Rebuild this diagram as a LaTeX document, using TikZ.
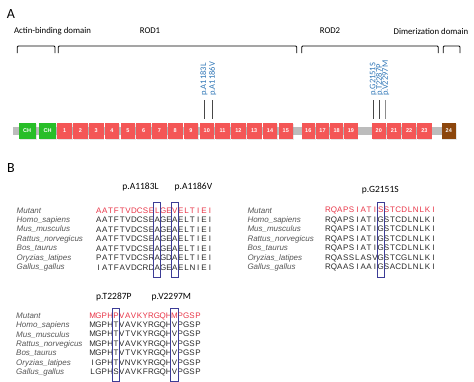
\documentclass[tikz,border=0pt]{standalone}
\usepackage{fontspec}
\setmainfont{Carlito}
\newfontfamily\seqfont{Liberation Sans}
\usetikzlibrary{positioning,shadows}

\definecolor{rodred}{RGB}{244,86,86}
\definecolor{chgreen}{RGB}{40,190,40}
\definecolor{dimbrown}{RGB}{140,70,12}
\definecolor{spinegray}{RGB}{188,188,188}
\definecolor{mutblue}{RGB}{46,117,182}
\definecolor{mutred}{RGB}{232,52,70}
\definecolor{spgray}{RGB}{85,85,85}
\definecolor{seqdark}{RGB}{40,40,40}
\definecolor{hitblue}{RGB}{60,60,150}

% one residue per fixed-width cell
\newcommand\seqpitch{5.85pt}
\newcommand\spaced[1]{\expandafter\spacedloop#1\relax}
\def\spacedloop#1{\ifx#1\relax\else\makebox[\seqpitch]{#1}\expandafter\spacedloop\fi}

\begin{document}
\begin{tikzpicture}[x=1pt,y=-1pt,
            panel/.style={font=\fontsize{14}{16}\selectfont,inner sep=0},
            domlabel/.style={font=\fontsize{8.8}{10}\selectfont,inner sep=0},
            bracket/.style={draw,line width=0.8pt,rounded corners=1pt},
            unit/.style={minimum height=16pt,inner sep=0,text=white,
              font=\seqfont\bfseries\fontsize{5.5}{6}\selectfont,
              drop shadow={opacity=.2,shadow xshift=.8pt,shadow yshift=-.8pt}},
            ch/.style={unit,fill=chgreen,minimum width=17pt},
            rod/.style={unit,fill=rodred},
            dim/.style={unit,fill=dimbrown,minimum width=14.3pt},
            mut/.style={rotate=90,anchor=west,inner sep=0,text=mutblue,font=\fontsize{8.5}{9}\selectfont},
            mutline/.style={draw=black!72,line width=1pt,shorten <=4pt,shorten >=4pt},
            site/.style={font=\fontsize{9.5}{11}\selectfont,inner sep=0},
            species/.style={anchor=west,inner sep=0,text=spgray,font=\seqfont\itshape\fontsize{8}{9}\selectfont},
            seq/.style={anchor=west,inner sep=0,text=seqdark,font=\seqfont\fontsize{8}{9}\selectfont},
            mutant/.style={seq,text=mutred},
            hit/.style={draw=hitblue,line width=0.9pt}
          ]
          \useasboundingbox (0,0) rectangle (474,381);

          %panel A
          \node[panel] (pa) at (11,14) {A};

          %domains
          \node[domlabel] (abd) at (52.5,31) {Actin-binding domain};
          \node[domlabel] (rod1) at (150,31) {ROD1};
          \node[domlabel] (rod2) at (330,31) {ROD2};
          \node[domlabel] (dimd) at (431,31) {Dimerization domain};
          \draw[bracket] (17.3,53) |- (55,46) -- (55,53);
          \draw[bracket] (58.3,53) |- (296.7,46) -- (296.7,53);
          \draw[bracket] (301.7,53) |- (438.3,46) -- (438.3,53);
          \draw[bracket] (443.3,53) |- (460,46) -- (460,53);

          %protein
          \fill[spinegray] (12.7,127) rectangle (444,135);
          \node[ch] (ch1) at (27.2,131) {CH};
          \node[ch,right=3pt of ch1] (ch2) {CH};
          \foreach \n in {1,...,15}
            \node[rod,minimum width=14.6pt] (b\n) at ({64.6+15.8*(\n-1)},131) {\n};
          \foreach \n in {16,...,19}
            \node[rod,minimum width=13.3pt] (b\n) at ({308.3+14.2*(\n-16)},131) {\n};
          \foreach \n in {20,...,23}
            \node[rod,minimum width=14.2pt] (b\n) at ({378.8+15.2*(\n-20)},131) {\n};
          \node[dim] (b24) at (448.8,131) {24};

          %mutations
          \node[mut] (m1183) at (204,96) {p.A1183L};
          \node[mut] (m1186) at (212.7,96) {p.A1186V};
          \node[mut] (m2151) at (373.3,96) {p.G2151S};
          \node[mut] (m2287) at (379.7,96) {p.T2287P};
          \node[mut] (m2297) at (385.7,96) {p.V2297M};
          \path
          (m1183.west) edge[mutline] (m1183.west |- b10.north)
          (m1186.west) edge[mutline] (m1186.west |- b10.north)
          (m2151.west) edge[mutline] (m2151.west |- b20.north)
          (m2287.west) edge[mutline] (m2287.west |- b20.north)
          (m2297.west) edge[mutline,draw=black!45] (m2297.west |- b20.north)
          ;

          %panel B
          \node[panel] (pb) at (11,168) {B};

          %alignment 1
          \node[site] (h1183) at (140.5,187) {p.A1183L};
          \node[site] (h1186) at (193.4,187) {p.A1186V};
          \node[species] (l-mut) at (16.5,210.5) {Mutant};
          \node[mutant] (l-mseq) at (95.7,210.5) {\spaced{AATFTVDCSELGEVELTIEI}};
          \foreach \sp/\res [count=\i] in {Homo\_sapiens/AATFTVDCSEAGEAELTIEI,
              Mus\_musculus/AATFTVDCSEAGEAELTIEI,Rattus\_norvegicus/AATFTVDCSEAGEAELTIEI,
              Bos\_taurus/AATFTVDCSEAGEAELTIEI,Oryzias\_latipes/PATFTVDCSRAGDAELTIEI,
              Gallus\_gallus/IATFAVDCRDAGEAELNIEI}{
            \node[species] (l-sp\i) at (16.5,{210.5+9.5*\i}) {\sp};
            \node[seq] (l-sq\i) at (95.7,{210.5+9.5*\i}) {\spaced{\res}};
          }
          \draw[hit] (153.5,202) rectangle (160.8,277);
          \draw[hit] (171,202) rectangle (178.3,277);

          %alignment 2
          \node[site] (h2151) at (380.3,190) {p.G2151S};
          \node[species] (r-mut) at (247.3,210.5) {Mutant};
          \node[mutant] (r-mseq) at (325,210.5) {\spaced{RQAPSIATISSTCDLNLKI}};
          \foreach \sp/\res [count=\i] in {Homo\_sapiens/RQAPSIATIGSTCDLNLKI,
              Mus\_musculus/RQAPSIATIGSTCDLNLKI,Rattus\_norvegicus/RQAPSIATIGSTCDLNLKI,
              Bos\_taurus/RQAPSIATIGSTCDLNLKI,Oryzias\_latipes/RQASSLASVGSTCGLNLKI,
              Gallus\_gallus/RQAASIAAIGSACDLNLKI}{
            \node[species] (r-sp\i) at (247.3,{210.5+9.5*\i}) {\sp};
            \node[seq] (r-sq\i) at (325,{210.5+9.5*\i}) {\spaced{\res}};
          }
          \draw[hit] (377,202) rectangle (384.3,277);

          %alignment 3
          \node[site] (h2287) at (113.8,297) {p.T2287P};
          \node[site] (h2297) at (171.3,297) {p.V2297M};
          \node[species] (d-mut) at (16,316) {Mutant};
          \node[mutant] (d-mseq) at (89.5,316) {\spaced{MGPHPVAVKYRGQHMPGSP}};
          \foreach \sp/\res [count=\i] in {Homo\_sapiens/MGPHTVAVKYRGQHVPGSP,
              Mus\_musculus/MGPHTVTVKYRGQHVPGSP,Rattus\_norvegicus/MGPHTVAVKYRGQHVPGSP,
              Bos\_taurus/MGPHTVTVKYRGQHVPGSP,Oryzias\_latipes/IGPHTVNVKYRGQHVPGSP,
              Gallus\_gallus/LGPHSVAVKFRGQHVPGSP}{
            \node[species] (d-sp\i) at (16,{316+9.4*\i}) {\sp};
            \node[seq] (d-sq\i) at (89.5,{316+9.4*\i}) {\spaced{\res}};
          }
          \draw[hit] (112.3,308.5) rectangle (119.6,381);
          \draw[hit] (170.8,308.5) rectangle (178.1,381);

      \end{tikzpicture}
\end{document}
